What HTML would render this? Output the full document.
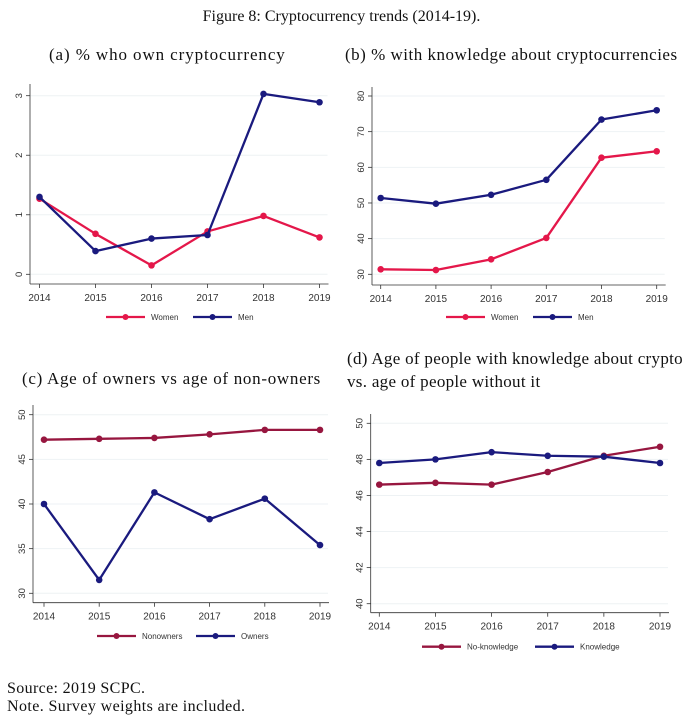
<!DOCTYPE html>
<html><head><meta charset="utf-8"><style>
body{margin:0;background:#fff;width:683px;height:720px;overflow:hidden;position:relative;font-family:"Liberation Serif",serif}
.t{position:absolute;white-space:nowrap;color:#111}
svg{position:absolute;left:0;top:0}
</style></head><body>
<div class="t" style="left:0;width:683px;text-align:center;top:8px;font-size:16px">Figure 8: Cryptocurrency trends (2014-19).</div>
<div class="t" style="left:49px;top:45px;font-size:17px;letter-spacing:0.9px">(a) % who own cryptocurrency</div>
<div class="t" style="left:345px;top:45px;font-size:17px;letter-spacing:0.5px">(b) % with knowledge about cryptocurrencies</div>
<div class="t" style="left:22px;top:369px;font-size:17px;letter-spacing:0.7px">(c) Age of owners vs age of non-owners</div>
<div class="t" style="left:347px;top:347px;font-size:17px;letter-spacing:0.3px;line-height:23px">(d) Age of people with knowledge about crypto<br>vs. age of people without it</div>
<div class="t" style="left:7px;top:680px;font-size:16px;letter-spacing:0.35px">Source: 2019 SCPC.</div>
<div class="t" style="left:7px;top:698px;font-size:16px;letter-spacing:0.4px">Note. Survey weights are included.</div>
<svg id="s" width="683" height="720"></svg>
<script>
const years=["2014","2015","2016","2017","2018","2019"];
const aWomen=[1.27,0.68,0.15,0.72,0.98,0.62];
const aMen=[1.30,0.39,0.60,0.66,3.03,2.89];
const aTicks=[0,1,2,3];
const bWomen=[31.4,31.2,34.2,40.2,62.7,64.5];
const bMen=[51.4,49.8,52.3,56.5,73.4,76.0];
const bTicks=[30,40,50,60,70,80];
const cNonowners=[47.2,47.3,47.4,47.8,48.3,48.3];
const cOwners=[40.0,31.5,41.3,38.3,40.6,35.4];
const cTicks=[30,35,40,45,50];
const dNoKnow=[46.6,46.7,46.6,47.3,48.2,48.7];
const dKnow=[47.8,48.0,48.4,48.2,48.15,47.8];
const dTicks=[40,42,44,46,48,50];
const RED="#e4174a",NAVY="#1a1a7e",MAROON="#97163f";
const NS="http://www.w3.org/2000/svg",S=document.getElementById('s');
function mk(t,a,p){const e=document.createElementNS(NS,t);for(const k in a)e.setAttribute(k,a[k]);(p||S).appendChild(e);return e;}
function panel(id,P,ticks,series){
  const g=mk('g',{});
  
  
  const X=i=>P.x0+(P.x1-P.x0)*i/(years.length-1);
  const Y=v=>P.yb+(P.yt-P.yb)*(v-P.vb)/(P.vt-P.vb);
  ticks.forEach(v=>{
    mk('line',{x1:P.ax,x2:P.x1+8,y1:Y(v),y2:Y(v),stroke:"#eef2f4","stroke-width":1},g);
    mk('line',{x1:P.ax-4,x2:P.ax,y1:Y(v),y2:Y(v),stroke:"#333","stroke-width":0.8},g);
    const t=mk('text',{x:P.ax-8,y:Y(v),transform:`rotate(-90 ${P.ax-8} ${Y(v)})`,"text-anchor":"middle","font-size":9.5,fill:"#333","font-family":"Liberation Sans, sans-serif"},g);
    t.textContent=v;
    
    
  });
  mk('line',{x1:P.ax,x2:P.ax,y1:P.atop,y2:P.axy,stroke:"#333","stroke-width":0.8},g);
  mk('line',{x1:P.ax,x2:P.x1+9,y1:P.axy,y2:P.axy,stroke:"#333","stroke-width":0.8},g);
  years.forEach((y,i)=>{
    mk('line',{x1:X(i),x2:X(i),y1:P.axy,y2:P.axy+4,stroke:"#333","stroke-width":0.8},g);
    const t=mk('text',{x:X(i),y:P.axy+17,"text-anchor":"middle","font-size":10,fill:"#333","font-family":"Liberation Sans, sans-serif"},g);
    t.textContent=y;
    
    
  });
  series.forEach(s=>{
    const pl=mk('polyline',{points:s.v.map((v,i)=>X(i)+","+Y(v)).join(" "),fill:"none",stroke:s.c,"stroke-width":2.3,"stroke-linejoin":"round"},g);
    
    
    s.v.forEach((v,i)=>{const c=mk('circle',{cx:X(i),cy:Y(v),r:3.3,fill:s.c},g);
      
      });
    const lg=mk('g',{},g);
    
    
    mk('line',{x1:s.lx,x2:s.lx+39,y1:P.ly,y2:P.ly,stroke:s.c,"stroke-width":2.3},lg);
    mk('circle',{cx:s.lx+19.5,cy:P.ly,r:3,fill:s.c},lg);
    const t=mk('text',{x:s.lx+45,y:P.ly+3,"font-size":8,fill:"#333","font-family":"Liberation Sans, sans-serif"},lg);
    t.textContent=s.n;
  });
}
panel('panel-a-chart',{x0:39.5,x1:319.5,ax:30,atop:84,axy:284,yb:274.3,yt:95.7,vb:0,vt:3,ly:317},aTicks,
 [{v:aWomen,c:RED,n:"Women",lx:106},{v:aMen,c:NAVY,n:"Men",lx:193}]);
panel('panel-b-chart',{x0:380.7,x1:656.7,ax:372,atop:87,axy:285,yb:274.3,yt:96,vb:30,vt:80,ly:317},bTicks,
 [{v:bWomen,c:RED,n:"Women",lx:446},{v:bMen,c:NAVY,n:"Men",lx:533}]);
panel('panel-c-chart',{x0:44,x1:320,ax:33,atop:405,axy:602.7,yb:593.3,yt:414.7,vb:30,vt:50,ly:636},cTicks,
 [{v:cNonowners,c:MAROON,n:"Nonowners",lx:97},{v:cOwners,c:NAVY,n:"Owners",lx:196}]);
panel('panel-d-chart',{x0:379.3,x1:660,ax:370.7,atop:414,axy:612.7,yb:603.7,yt:423.3,vb:40,vt:50,ly:646.7},dTicks,
 [{v:dNoKnow,c:MAROON,n:"No-knowledge",lx:422},{v:dKnow,c:NAVY,n:"Knowledge",lx:535}]);
</script>
</body></html>
